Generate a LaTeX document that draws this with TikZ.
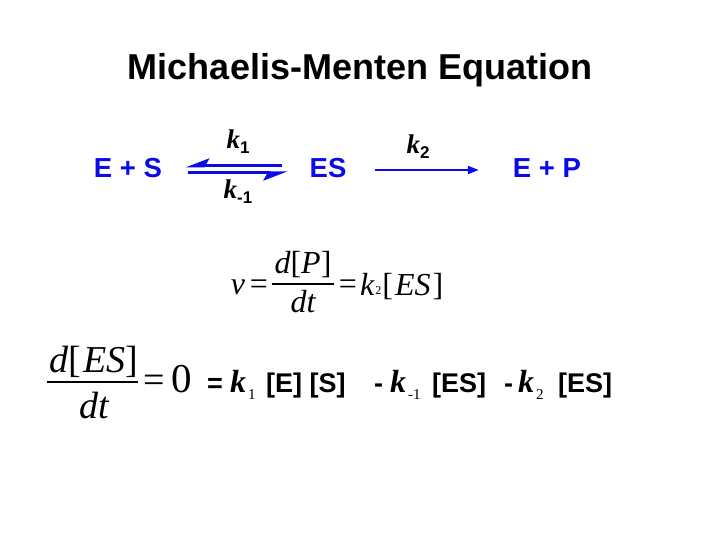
\documentclass[tikz,border=0pt]{standalone}
\usepackage{fontspec}
\usetikzlibrary{arrows.meta}
\setmainfont{Liberation Sans}
\newfontfamily\tms{Liberation Serif}
\definecolor{eqblue}{RGB}{10,10,235}
\newcommand\kbi{{\tms\bfseries\itshape k}}
\newcommand\ksubsans[1]{\raisebox{-5pt}{\fontsize{17}{17}\selectfont\bfseries #1}}
\newcommand\ksubser[1]{\kern2pt\raisebox{-7pt}{\tms\fontsize{15}{15}\selectfont #1}}
\tikzset{
  species/.style={font=\fontsize{27.5}{30}\selectfont\bfseries, text=eqblue, inner sep=3pt},
  rate/.style={font=\fontsize{27}{30}\selectfont, inner sep=1pt},
  eqline/.style={draw=eqblue, line width=3pt},
  fwdline/.style={draw=eqblue, line width=2pt},
  eqa/.style={font=\tms\fontsize{32}{36}\selectfont, inner sep=0pt, anchor=base},
  eqb/.style={font=\tms\fontsize{38}{42}\selectfont, inner sep=0pt, anchor=base},
  rhs/.style={font=\fontsize{27}{30}\selectfont\bfseries, inner sep=0pt, anchor=base west},
  rhsk/.style={font=\fontsize{32}{34}\selectfont, inner sep=0pt, anchor=base west},
  fracbar/.style={line width=1.3pt},
}
\begin{document}
\begin{tikzpicture}[x=1pt,y=-1pt]
\useasboundingbox[fill=white] (0,0) rectangle (720,540);
\node[anchor=base, font=\fontsize{36}{40}\selectfont\bfseries] (title) at (360,80) {Michaelis-Menten Equation};

\node[species] (es) at (128,168) {E + S};
\node[species] (cplx) at (328,168) {ES};
\node[species] (ep) at (547,168) {E + P};

\draw[eqline, shorten <=24pt, shorten >=20pt, -{Stealth[harpoon,swap,length=20pt,width=15pt,inset=4pt]}]
  ([yshift=2pt]cplx.west) -- ([yshift=2pt]es.east);
\draw[eqline, shorten <=23pt, shorten >=19pt, -{Stealth[harpoon,swap,length=20pt,width=15pt,inset=4pt]}]
  ([yshift=-5pt]es.east) -- ([yshift=-5pt]cplx.west);
\draw[fwdline, shorten <=25pt, shorten >=31pt, -{Triangle[length=11pt,width=8pt]}]
  ([yshift=-2pt]cplx.east) -- ([yshift=-2pt]ep.west);

\node[rate] (k1) at (238,142) {\kbi\ksubsans{1}};
\node[rate] (km1) at (238,192) {\kbi\ksubsans{-1}};
\node[rate] (k2) at (418,147) {\kbi\ksubsans{2}};

% v = d[P]/dt = k2[ES]
\node[eqa] (v) at (238,294) {\itshape v};
\node[eqa] (eqa1) at (259,294) {=};
\node[eqa] (numa) at (303,273) {\itshape d\upshape[\itshape P\upshape]};
\node[eqa] (dena) at (303,312) {\itshape dt};
\draw[fracbar] (272,284) -- (334,284);
\node[eqa] (eqa2) at (348,294) {=};
\node[eqa, anchor=base west] (ka) at (360,295)
  {\itshape k\upshape\kern1pt\raisebox{1pt}{\fontsize{12}{12}\selectfont 2}\kern1pt[\kern2pt\itshape ES\upshape\kern2pt]};

% d[ES]/dt = 0
\node[eqb] (numb) at (94,372) {\itshape d\upshape[\kern2pt\itshape ES\upshape]};
\draw[fracbar, line width=1.5pt] (47,382) -- (138,382);
\node[eqb] (denb) at (94,418) {\itshape dt};
\node[eqb, anchor=base west] (zero) at (143,392) {=\kern7pt{\fontsize{41}{44}\selectfont 0}};

% right-hand side
\node[rhs] (r1) at (207,392) {=};
\node[rhsk] (rk1) at (230,392) {\kbi\ksubser{1}};
\node[rhs] (rES1) at (266,392) {[E] [S]};
\node[rhs] (r2) at (374,392) {-};
\node[rhsk] (rk2) at (390,392) {\kbi\ksubser{-1}};
\node[rhs] (rES2) at (432,392) {[ES]};
\node[rhs] (r3) at (504,392) {-};
\node[rhsk] (rk3) at (518,392) {\kbi\ksubser{2}};
\node[rhs] (rES3) at (558,392) {[ES]};
\end{tikzpicture}
\end{document}
